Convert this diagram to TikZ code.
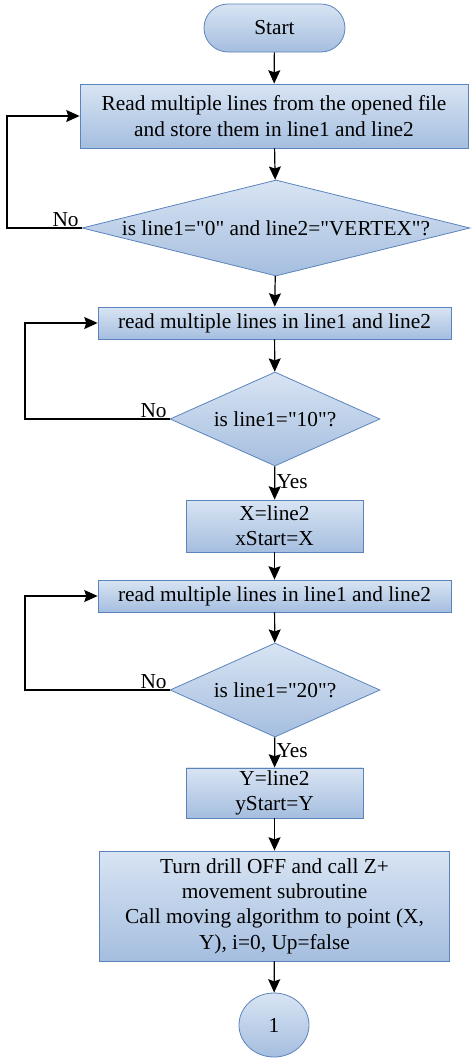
\documentclass[tikz,border=0pt]{standalone}
\usepackage{fontspec}
\setmainfont{Liberation Serif}[Ligatures=TeXOff]
\usepackage{tikz}
\usetikzlibrary{shapes.geometric,arrows.meta}

\definecolor{boxtop}{HTML}{D8E4F3}
\definecolor{boxbot}{HTML}{A5BEDF}
\definecolor{boxline}{HTML}{5B84BC}

\tikzset{
  base/.style={draw=boxline, line width=0.6pt, top color=boxtop, bottom color=boxbot,
    font=\fontsize{16}{19}\selectfont, align=center, inner sep=2pt},
  terminal/.style={base, rectangle, rounded corners=18pt, minimum width=105.75pt, minimum height=36pt},
  process/.style={base, rectangle, minimum height=24pt},
  decision/.style={base, diamond, inner sep=0pt},
  connector/.style={base, ellipse, minimum width=52.5pt, minimum height=48pt},
  flow/.style={line width=0.9pt, -{Stealth[length=10pt,width=9pt,inset=1.5pt]}},
  lbl/.style={font=\fontsize{16}{19}\selectfont, inner sep=1pt}
}

\begin{document}
\begin{tikzpicture}[x=0.75pt, y=-0.75pt]
\useasboundingbox (0,0) rectangle (474,1064);

% Nodes
\node[terminal] (start) at (274.5,28) {Start};
\node[process, minimum width=291pt, minimum height=48pt] (read1) at (274,116)
  {Read multiple lines from the opened file\\and store them in line1 and line2};
\node[decision, minimum width=291pt, minimum height=72pt, shape aspect=4] (isvertex) at (276,228)
  {is line1="0" and line2="VERTEX"?};
\node[process, minimum width=264.75pt] (read2) at (274.5,323) {read multiple lines in line1 and line2};
\node[decision, minimum width=157.5pt, minimum height=70.5pt, shape aspect=2.2] (isten) at (275,419)
  {is line1="10"?};
\node[process, minimum width=132.75pt, minimum height=39pt] (setx) at (274.5,526) {X=line2\\xStart=X};
\node[process, minimum width=264.75pt] (read3) at (274.5,596) {read multiple lines in line1 and line2};
\node[decision, minimum width=157.5pt, minimum height=70.5pt, shape aspect=2.2] (istwenty) at (275,690)
  {is line1="20"?};
\node[process, minimum width=132.75pt, minimum height=37pt] (sety) at (274.5,793) {Y=line2\\yStart=Y};
\node[process, minimum width=263pt, minimum height=82.5pt] (moveto) at (274.5,906)
  {Turn drill OFF and call Z+\\movement subroutine\\Call moving algorithm to point (X,\\Y), i=0, Up=false};
\node[connector] (next) at (274,1025) {1};

% Loop corners
\coordinate (back1) at (7,228);
\coordinate (back2) at (25,419);
\coordinate (back3) at (25,690);

% Main flow
\draw[flow] (start) -- (read1);
\draw[flow] (read1) -- (isvertex);
\draw[flow] (isvertex) -- (read2);
\draw[flow] (read2) -- (isten);
\draw[flow] (isten) -- node[lbl, right, pos=0.45] {Yes} (setx);
\draw[flow] (setx) -- (read3);
\draw[flow] (read3) -- (istwenty);
\draw[flow] (istwenty) -- node[lbl, right, pos=0.45] {Yes} (sety);
\draw[flow] (sety) -- (moveto);
\draw[flow] (moveto) -- (next);

% No branches
\draw[flow] (isvertex.west) -- (back1) |- (read1.west);
\node[lbl, anchor=south east] at ([xshift=-1pt]isvertex.west) {No};
\draw[flow] (isten.west) -- (back2) |- (read2.west);
\node[lbl, anchor=south east] at ([xshift=-1pt]isten.west) {No};
\draw[flow] (istwenty.west) -- (back3) |- (read3.west);
\node[lbl, anchor=south east] at ([xshift=-1pt]istwenty.west) {No};

\end{tikzpicture}
\end{document}
